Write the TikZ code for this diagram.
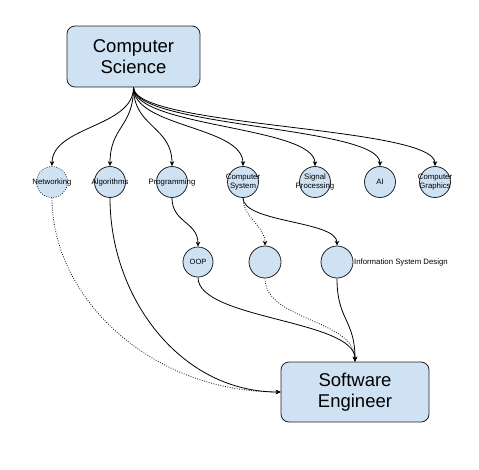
\documentclass[tikz,border=0pt]{standalone}
\usepackage{fontspec}
\setmainfont{Liberation Sans}
\usetikzlibrary{arrows.meta}
\definecolor{lb}{HTML}{CFE2F3}
\definecolor{ink}{HTML}{222222}
\begin{document}
\begin{tikzpicture}[x=1pt,y=-1pt,
  box/.style={draw=ink, fill=lb, rounded corners=8pt, minimum width=133pt, minimum height=61pt, align=center, font=\fontsize{18.5}{21.5}\selectfont, line width=0.8pt, inner sep=0pt},
  topic/.style={draw=ink, fill=lb, circle, minimum size=31pt, inner sep=0pt, line width=0.8pt},
  lab/.style={font=\fontsize{7.8}{8.8}\selectfont, align=center, inner sep=0pt},
  conn/.style={draw=black, line width=0.8pt, -{Stealth[length=5pt,width=4.5pt]}},
  dotconn/.style={conn, dash pattern=on 0.8pt off 1.6pt},
]
\useasboundingbox (0,0) rectangle (479,469);
\node[box] (cs) at (133.5,56.5) {Computer\\Science};
\node[box, minimum width=148pt, minimum height=60pt] (se) at (355,392) {Software\\Engineer};

\node[topic, dash pattern=on 0.8pt off 1.6pt, label={[lab]center:Networking}] (net) at (52,182) {};
\node[topic, label={[lab]center:Algorithms}] (alg) at (110,182) {};
\node[topic, label={[lab]center:Programming}] (prog) at (172,182) {};
\node[topic, label={[lab]center:Computer\\System}] (csys) at (243,182) {};
\node[topic, label={[lab]center:Signal\\Processing}] (sig) at (315,182) {};
\node[topic, label={[lab]center:AI}] (ai) at (380,182) {};
\node[topic, label={[lab]center:Computer\\Graphics}] (cg) at (435,182) {};

\node[topic, minimum size=30pt, label={[lab, font=\fontsize{7.5}{8.5}\selectfont]center:OOP}] (oop) at (198,262) {};
\node[topic, minimum size=32pt] (blank) at (265,262) {};
\node[topic, minimum size=32pt, label={[lab, anchor=west, xshift=0.5pt]east:Information System Design}] (isd) at (337,262) {};

\foreach \t in {net,alg,prog,csys,sig,ai,cg}
  \draw[conn] (cs.south) .. controls +(0,40) and +(0,-40) .. (\t.north);

\draw[conn] (prog.south) .. controls +(0,25) and +(0,-25) .. (oop.north);
\draw[dotconn] (csys.south) .. controls +(0,20) and +(0,-20) .. (blank.north);
\draw[conn] (csys.south) .. controls +(0,25) and +(0,-25) .. (isd.north);

\draw[dotconn] (net.south) .. controls +(0,100) and +(-130,0) .. (se.west);
\draw[conn] (alg.south) .. controls +(0,100) and +(-100,0) .. (se.west);
\draw[conn] (oop.south) .. controls +(0,42) and +(0,-42) .. (se.north);
\draw[dotconn] (blank.south) .. controls +(0,42) and +(0,-42) .. (se.north);
\draw[conn] (isd.south) .. controls +(0,42) and +(0,-42) .. (se.north);
\end{tikzpicture}
\end{document}
